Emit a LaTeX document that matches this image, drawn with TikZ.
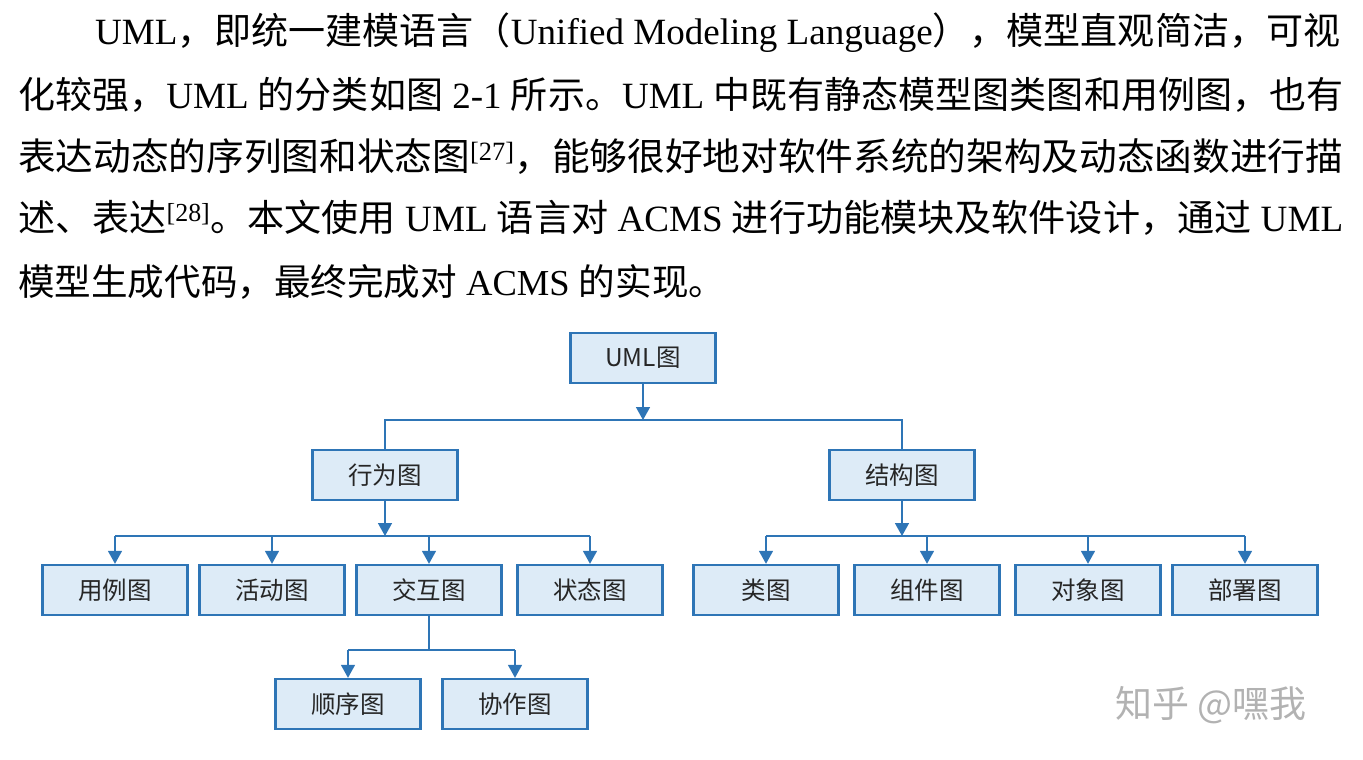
\documentclass[tikz,border=0pt]{standalone}
\usepackage{fontspec}
\usepackage{graphicx}
\setmainfont{Liberation Serif}
\newfontfamily\cjk{Noto Sans CJK SC}
\newcommand{\zh}[1]{{\cjk #1}}
\usetikzlibrary{arrows.meta}
\definecolor{bx}{HTML}{2E75B6}
\definecolor{bf}{HTML}{DDEBF7}
\tikzset{
  box/.style={draw=bx,line width=2.4pt,fill=bf,minimum width=145pt,minimum height=50pt,font=\cjk\fontsize{24.5}{24.5}\selectfont,text=black!85,inner sep=0},
  ln/.style={draw=bx,line width=1.6pt},
  ar/.style={ln,-{Triangle[width=14pt,length=13pt]}},
  para/.style={anchor=west,inner sep=0,font=\fontsize{34}{34}\selectfont}
}
\begin{document}
\begin{tikzpicture}[x=1pt,y=-1pt]
\useasboundingbox (0,0) rectangle (1363,760);
% paragraph
\node[para] (l1) at (95,33) {\resizebox{1245pt}{!}{UML\zh{，即统一建模语言（}Unified Modeling Language\zh{），模型直观简洁，可视}}};
\node[para] (l2) at (18,95) {\resizebox{1325pt}{!}{\zh{化较强，}UML \zh{的分类如图} 2-1 \zh{所示。}UML \zh{中既有静态模型图类图和用例图，也有}}};
\node[para] (l3) at (18,157) {\resizebox{1325pt}{!}{\zh{表达动态的序列图和状态图}\textsuperscript{[27]}\zh{，能够很好地对软件系统的架构及动态函数进行描}}};
\node[para] (l4) at (18,218) {\resizebox{1325pt}{!}{\zh{述、表达}\textsuperscript{[28]}\zh{。本文使用} UML \zh{语言对} ACMS \zh{进行功能模块及软件设计，通过} UML}};
\node[para] (l5) at (18,282) {\resizebox{707pt}{!}{\zh{模型生成代码，最终完成对} ACMS \zh{的实现。}}};
% boxes
\node[box] (uml) at (643,358) {UML图};
\node[box] (xw) at (385,475) {行为图};
\node[box] (jg) at (902,475) {结构图};
\node[box] (yl) at (115,590) {用例图};
\node[box] (hd) at (272,590) {活动图};
\node[box] (jh) at (429,590) {交互图};
\node[box] (zt) at (590,590) {状态图};
\node[box] (lt) at (766,590) {类图};
\node[box] (zj) at (927,590) {组件图};
\node[box] (dx) at (1088,590) {对象图};
\node[box] (bs) at (1245,590) {部署图};
\node[box] (sx) at (348,704) {顺序图};
\node[box] (xz) at (515,704) {协作图};
% connectors
\coordinate (h1) at (643,420);
\draw[ar] (uml.south) -- (h1);
\draw[ln] (xw.north) |- (h1) -| (jg.north);
\coordinate (h2) at (385,536);
\draw[ar] (xw.south) -- (h2);
\draw[ln] (yl.north |- h2) -- (zt.north |- h2);
\foreach \n in {yl,hd,jh,zt} \draw[ar] (\n.north |- h2) -- (\n.north);
\coordinate (h3) at (902,536);
\draw[ar] (jg.south) -- (h3);
\draw[ln] (lt.north |- h3) -- (bs.north |- h3);
\foreach \n in {lt,zj,dx,bs} \draw[ar] (\n.north |- h3) -- (\n.north);
\coordinate (h4) at (429,650);
\draw[ln] (jh.south) -- (h4);
\draw[ln] (sx.north |- h4) -- (xz.north |- h4);
\foreach \n in {sx,xz} \draw[ar] (\n.north |- h4) -- (\n.north);
% watermark
\node[anchor=west,inner sep=0,text=black!30,font=\cjk\fontsize{37}{37}\selectfont] (wm) at (1115,705) {知乎 @嘿我};
\end{tikzpicture}
\end{document}
